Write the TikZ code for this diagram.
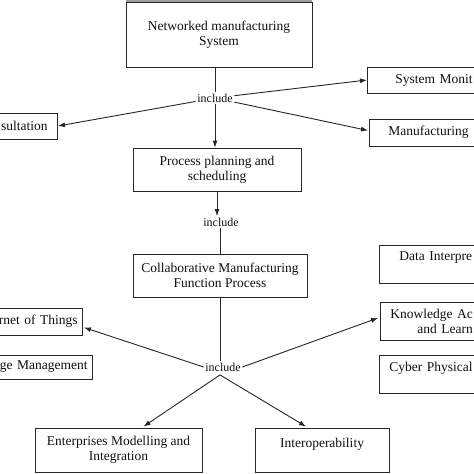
\documentclass[tikz,border=0pt]{standalone}
\usepackage{fontspec}
\setmainfont{Liberation Serif}
\usetikzlibrary{arrows.meta,calc}
\definecolor{linec}{HTML}{262626}
\definecolor{txtc}{HTML}{111111}
\newcommand\bxfont{\fontsize{13.5}{15}\selectfont}
\newcommand\incfnt{\fontsize{12}{14}\selectfont}
\begin{document}
\begin{tikzpicture}[x=1pt,y=-1pt,
  box/.style={draw=linec, line width=0.9pt, inner sep=0pt, font=\bxfont, text=txtc, align=center},
  lbl/.style={font=\incfnt, text=txtc, inner sep=1.5pt},
  arr/.style={draw=linec, line width=0.9pt, -{Latex[length=7pt,width=5pt]}},
  ln/.style={draw=linec, line width=0.9pt}]
\useasboundingbox (0,0) rectangle (474,474);
\clip (0,0) rectangle (474,474);
\fill[white] (0,0) rectangle (474,474);
\fill[gray!75] (126,0) rectangle (312,2.5);
% central column
\node[box, minimum width=186pt, minimum height=65pt] (top) at (219,34.5) {Networked manufacturing\\System};
\node[box, minimum width=168pt, minimum height=43pt] (proc) at (217,169.5) {Process planning and\\scheduling};
\node[box, minimum width=174pt, minimum height=43pt] (collab) at (220,275.5) {Collaborative Manufacturing\\Function Process};
\node[box, minimum width=167pt, minimum height=44pt] (ent) at (118.5,450) {Enterprises Modelling and\\Integration};
\node[box, minimum width=134pt, minimum height=44pt] (interop) at (322,450) {Interoperability\\~};
% left, cut-off boxes
\node[box, anchor=east, text width=100pt, align=right, inner xsep=10pt, minimum height=26pt] (consult) at (58,126) {sultation};
\node[box, anchor=east, text width=100pt, align=right, inner xsep=5pt, minimum height=27pt] (iot) at (83,321.5) {rnet of Things};
\node[box, anchor=east, text width=100pt, align=right, inner xsep=5pt, minimum height=24pt] (km) at (93,367) {ge Management};
% right, cut-off boxes
\node[box, anchor=west, text width=110pt, align=left, inner xsep=28pt, minimum height=26pt] (sysmon) at (367,80) {System Monit};
\node[box, anchor=west, text width=110pt, align=left, inner xsep=19pt, minimum height=27pt] (manuf) at (369,132.5) {Manufacturing};
\node[box, anchor=west, text width=110pt, align=left, inner xsep=20pt, minimum height=38pt] (data) at (379,264) {Data Interpre\\~};
\node[box, anchor=west, text width=110pt, align=left, inner xsep=10pt, minimum height=38pt] (know) at (380,321) {Knowledge Ac\\\hspace*{27pt}and Learn};
\node[box, anchor=west, text width=110pt, align=left, inner xsep=10pt, minimum height=38pt] (cyber) at (379,374) {Cyber Physical\\~};
% include labels
\node[lbl] (inc1) at (215,98) {include};
\node[lbl] (inc2) at (221,222) {include};
\node[lbl] (inc3) at (223,367) {include};
% connectors
\draw[ln] (top.south -| inc1) -- (inc1);
\draw[arr] (inc1) -- (proc.north -| inc1);
\draw[arr] (inc1) -- (consult.east);
\draw[arr] (inc1) -- (sysmon.west);
\draw[arr] (inc1) -- ($(manuf.west)+(-1,-2)$);
\draw[arr] (proc.south) -- (proc.south |- inc2.north);
\draw[ln] (inc2.south -| collab.north) -- (collab.north);
\draw[ln] (collab.south) -- (collab.south |- inc3.north);
\coordinate (apex) at ($(collab.south |- inc3.south)+(0,2)$);
\draw[arr] (inc3.west) -- ($(iot.east)+(1,6)$);
\draw[arr] (inc3.east) -- ($(know.west)+(-2,-3)$);
\draw[arr] (apex) -- ($(ent.north)+(25,-1)$);
\draw[arr] (apex) -- ($(interop.north)+(-16,-1)$);
\end{tikzpicture}
\end{document}
